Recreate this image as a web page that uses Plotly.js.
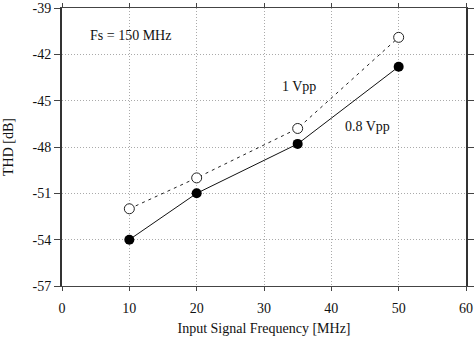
<!DOCTYPE html>
<html>
<head>
<meta charset="utf-8">
<script src="https://cdn.plot.ly/plotly-3.0.1.min.js"></script>
<style>html,body{margin:0;padding:0;background:#fff;}#chart{width:474px;height:339px;}</style>
</head>
<body>
<div id="chart"></div>
<script>
var freq = [10, 20, 35, 50];
var thd1Vpp = [-52, -50, -46.8, -40.9];
var thd08Vpp = [-54, -51, -47.8, -42.8];
var xTicks = [0, 10, 20, 30, 40, 50, 60];
var yTicks = [-57, -54, -51, -48, -45, -42, -39];

var font = {family: '"Liberation Serif", "Times New Roman", serif', color: '#111', size: 14};

var traces = [
  {x: freq, y: thd1Vpp, mode: 'lines+markers', name: '1 Vpp',
   line: {color: '#222', width: 1, dash: '3px,4px'},
   marker: {symbol: 'circle', size: 10, color: '#fff', line: {width: 1, color: '#222'}}},
  {x: freq, y: thd08Vpp, mode: 'lines+markers', name: '0.8 Vpp',
   line: {color: '#111', width: 1},
   marker: {symbol: 'circle', size: 10, color: '#000'}}
];

var layout = {
  width: 474, height: 339,
  margin: {l: 62, r: 8, t: 8, b: 53},
  paper_bgcolor: '#fff', plot_bgcolor: '#fff',
  showlegend: false,
  font: font,
  xaxis: {range: [0, 60], tickvals: xTicks, ticktext: xTicks.map(String),
    showgrid: true, gridcolor: '#aaa', griddash: '1px,2px', gridwidth: 1,
    zeroline: false, showline: true, linecolor: '#444', linewidth: 1, mirror: 'ticks',
    ticks: 'outside', ticklen: 4, tickcolor: '#444', ticklabelstandoff: 5,
    tickfont: font,
    title: {text: 'Input Signal Frequency [MHz]', font: font, standoff: 8}},
  yaxis: {range: [-57, -39], tickvals: yTicks, ticktext: yTicks.map(String),
    showgrid: true, gridcolor: '#aaa', griddash: '1px,2px', gridwidth: 1,
    zeroline: false, showline: true, linecolor: '#333', linewidth: 2, mirror: 'ticks',
    ticks: 'outside', ticklen: 6, tickcolor: '#444',
    tickfont: font,
    title: {text: 'THD [dB]', font: font, standoff: 16}},
  annotations: [
    {x: 3.9, y: -40.75, xref: 'x', yref: 'y', text: 'Fs = 150 MHz', showarrow: false, xanchor: 'left', font: font},
    {x: 35.2, y: -44.1, xref: 'x', yref: 'y', text: '1 Vpp', showarrow: false, font: font},
    {x: 45.4, y: -46.7, xref: 'x', yref: 'y', text: '0.8 Vpp', showarrow: false, font: font}
  ]
};

Plotly.newPlot('chart', traces, layout, {displayModeBar: false, staticPlot: true});
</script>
</body>
</html>
